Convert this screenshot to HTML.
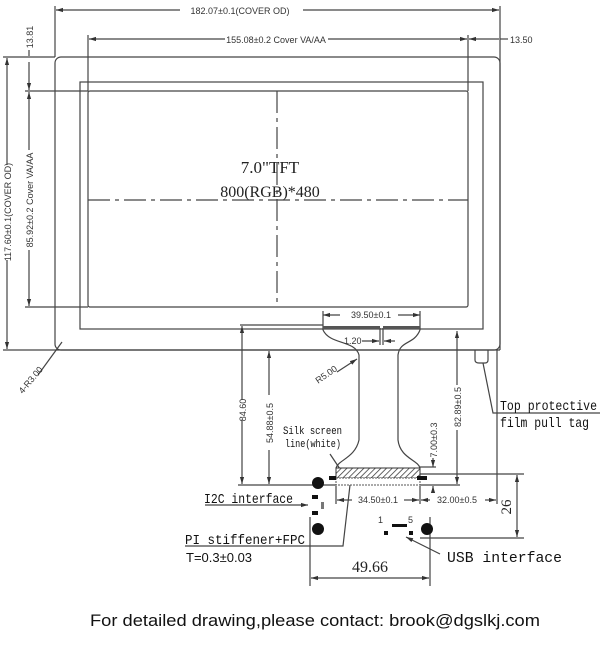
<!DOCTYPE html>
<html><head><meta charset="utf-8"><style>
html,body{margin:0;padding:0;background:#fff;width:600px;height:650px;overflow:hidden}
svg{display:block}
.d{font-family:"Liberation Sans Narrow","Liberation Sans",sans-serif;font-size:9px;fill:#333}
.m{font-family:"Liberation Mono",monospace;fill:#111}
</style></head><body>
<svg width="600" height="650" viewBox="0 0 600 650" xmlns="http://www.w3.org/2000/svg">
<defs>
<marker id="a" viewBox="0 0 10 10" refX="10" refY="5" markerWidth="6" markerHeight="6" orient="auto-start-reverse"><path d="M0,2 L10,5 L0,8 z" fill="#333"/></marker>
<pattern id="h" width="4" height="4" patternUnits="userSpaceOnUse" patternTransform="rotate(45)"><rect width="4" height="4" fill="#fff"/><line x1="0" y1="0" x2="0" y2="4" stroke="#333" stroke-width="1.5"/></pattern>
</defs>
<g stroke="#444" stroke-width="1.2" fill="none">
<rect x="55" y="57" width="445" height="293" rx="6"/>
<rect x="80" y="82" width="403" height="247"/>
<rect x="88" y="91" width="380" height="216" rx="2"/>
<line x1="277" y1="91" x2="277" y2="307" stroke-dasharray="22,5,4,5"/>
<line x1="88" y1="200" x2="468" y2="200" stroke-dasharray="22,5,4,5"/>
<line x1="55" y1="6" x2="55" y2="57"/><line x1="500" y1="6" x2="500" y2="350"/>
<line x1="56" y1="10" x2="180" y2="10" marker-start="url(#a)"/><line x1="303" y1="10" x2="499" y2="10" marker-end="url(#a)"/>
<line x1="88" y1="35" x2="88" y2="91"/><line x1="468" y1="35" x2="468" y2="91"/>
<line x1="89" y1="39" x2="225" y2="39" marker-start="url(#a)"/><line x1="328" y1="39" x2="467" y2="39" marker-end="url(#a)"/>
<line x1="469" y1="39" x2="499" y2="39" marker-start="url(#a)"/><line x1="500" y1="39" x2="508" y2="39"/>
<line x1="3" y1="57" x2="55" y2="57"/><line x1="3" y1="350" x2="55" y2="350"/>
<line x1="7" y1="58" x2="7" y2="165" marker-start="url(#a)"/><line x1="7" y1="260" x2="7" y2="349" marker-end="url(#a)"/>
<line x1="25" y1="91" x2="88" y2="91"/><line x1="25" y1="307" x2="88" y2="307"/>
<line x1="29" y1="92" x2="29" y2="150" marker-start="url(#a)"/><line x1="29" y1="250" x2="29" y2="306" marker-end="url(#a)"/>
<line x1="29" y1="50" x2="29" y2="56" /><line x1="29" y1="62" x2="29" y2="90" marker-end="url(#a)"/>
<line x1="38" y1="375" x2="62" y2="342"/>
<line x1="323" y1="315" x2="340" y2="315" marker-start="url(#a)"/><line x1="398" y1="315" x2="420" y2="315" marker-end="url(#a)"/>
<line x1="323" y1="311" x2="323" y2="330"/><line x1="420" y1="311" x2="420" y2="330"/>
<line x1="240" y1="325" x2="323" y2="325"/>
<path d="M323,330 C330,345 355,340 359,355 L359,440 C355,458 338,460 336,468"/>
<path d="M420,330 C414,345 400,340 398,355 L398,440 C400,458 418,460 420,468"/>
<line x1="55" y1="350" x2="500" y2="350"/>
<line x1="380" y1="328" x2="380" y2="345"/><line x1="383" y1="328" x2="383" y2="345"/>
<line x1="362" y1="341" x2="379" y2="341" marker-end="url(#a)"/><line x1="384" y1="341" x2="395" y2="341" marker-start="url(#a)"/>
<line x1="337" y1="372" x2="357" y2="359" marker-end="url(#a)"/>
<line x1="242" y1="326" x2="242" y2="400" marker-start="url(#a)"/><line x1="242" y1="420" x2="242" y2="484" marker-end="url(#a)"/>
<line x1="269" y1="351" x2="269" y2="395" marker-start="url(#a)"/><line x1="269" y1="450" x2="269" y2="484" marker-end="url(#a)"/>
<line x1="457" y1="331" x2="457" y2="385" marker-start="url(#a)"/><line x1="457" y1="430" x2="457" y2="484" marker-end="url(#a)"/>
<line x1="238" y1="485" x2="336" y2="485"/><line x1="420" y1="485" x2="460" y2="485"/>
<line x1="433" y1="458" x2="433" y2="467" marker-end="url(#a)"/><line x1="433" y1="486" x2="433" y2="492" marker-start="url(#a)"/>
<line x1="420" y1="467" x2="436" y2="467"/>
<line x1="420" y1="474" x2="524" y2="474"/><line x1="420" y1="538" x2="524" y2="538"/>
<line x1="517" y1="475" x2="517" y2="537" marker-start="url(#a)" marker-end="url(#a)"/>
<line x1="336" y1="486" x2="336" y2="504"/><line x1="420" y1="486" x2="420" y2="504"/><line x1="497" y1="350" x2="497" y2="504"/>
<line x1="337" y1="500" x2="352" y2="500" marker-start="url(#a)"/><line x1="404" y1="500" x2="419" y2="500" marker-end="url(#a)"/>
<line x1="421" y1="500" x2="430" y2="500" marker-start="url(#a)"/><line x1="485" y1="500" x2="496" y2="500" marker-end="url(#a)"/>
<line x1="310" y1="517" x2="310" y2="586"/><line x1="430" y1="517" x2="430" y2="586"/>
<line x1="311" y1="578" x2="429" y2="578" marker-start="url(#a)" marker-end="url(#a)"/>
<path d="M475,350 L475,360 Q475,363 479,363 L485,363 Q488,363 488,360 L488,350"/>
<path d="M483,363 L493,413 L600,413"/>
<line x1="330" y1="454" x2="340" y2="469"/>
<path d="M185,546 L343,546 L350,485"/>
<line x1="205" y1="505" x2="308" y2="505" marker-end="url(#a)"/>
<line x1="440" y1="554" x2="406" y2="537" marker-end="url(#a)"/>
</g>
<rect x="323" y="326" width="57" height="3" fill="#555"/><rect x="383" y="326" width="37" height="3" fill="#555"/>
<rect x="336" y="468" width="84" height="10" fill="url(#h)" stroke="#333"/>
<rect x="336" y="478" width="84" height="7" fill="#fff" stroke="#555" stroke-dasharray="2,1"/>
<rect x="329" y="476" width="7" height="4" fill="#111"/><rect x="417" y="476" width="10" height="4" fill="#111"/>
<g fill="#111">
<circle cx="318" cy="483" r="6"/><circle cx="318" cy="529" r="6"/><circle cx="427" cy="529" r="6"/>
<rect x="312" y="495" width="6" height="4"/><rect x="312" y="511" width="6" height="4"/><rect x="321" y="502" width="3" height="7" fill="#777"/>
<rect x="392" y="524" width="15" height="3"/><rect x="384" y="531" width="4" height="4"/><rect x="409" y="531" width="4" height="4"/>
</g>
<text class="d" x="378" y="523" font-size="5">1</text><text class="d" x="408" y="523" font-size="5">5</text>
<g class="d">
<text x="240" y="14" text-anchor="middle">182.07±0.1(COVER OD)</text>
<text x="276" y="43" text-anchor="middle">155.08±0.2  Cover VA/AA</text>
<text x="510" y="43">13.50</text>
<text x="371" y="318" text-anchor="middle">39.50±0.1</text>
<text x="344" y="344">1.20</text>
<text x="378" y="503" text-anchor="middle">34.50±0.1</text>
<text x="457" y="503" text-anchor="middle">32.00±0.5</text>
<text transform="translate(11,212) rotate(-90)" text-anchor="middle">117.60±0.1(COVER OD)</text>
<text transform="translate(33,200) rotate(-90)" text-anchor="middle">85.92±0.2 Cover VA/AA</text>
<text transform="translate(33,37) rotate(-90)" text-anchor="middle">13.81</text>
<text transform="translate(33,382) rotate(-50)" text-anchor="middle">4-R3.00</text>
<text transform="translate(328,377) rotate(-35)" text-anchor="middle">R5.00</text>
<text transform="translate(246,410) rotate(-90)" text-anchor="middle">84.60</text>
<text transform="translate(273,423) rotate(-90)" text-anchor="middle">54.88±0.5</text>
<text transform="translate(461,407) rotate(-90)" text-anchor="middle">82.89±0.5</text>
<text transform="translate(437,440) rotate(-90)" text-anchor="middle">7.00±0.3</text>
</g>
<text x="270" y="173" text-anchor="middle" font-family="Liberation Serif,serif" font-size="17" fill="#222">7.0"TFT</text>
<text x="270" y="197" text-anchor="middle" font-family="Liberation Serif,serif" font-size="16" fill="#222">800(RGB)*480</text>
<text transform="translate(511,507) rotate(-90)" text-anchor="middle" font-family="Liberation Serif,serif" font-size="15" fill="#222">26</text>
<text x="370" y="572" text-anchor="middle" font-family="Liberation Serif,serif" font-size="16" fill="#222">49.66</text>
<g class="m">
<text x="283" y="434" font-size="11" textLength="59" lengthAdjust="spacingAndGlyphs">Silk screen</text>
<text x="285" y="447" font-size="11" textLength="56" lengthAdjust="spacingAndGlyphs">line(white)</text>
<text x="500" y="410" font-size="14" textLength="97" lengthAdjust="spacingAndGlyphs">Top protective</text>
<text x="500" y="427" font-size="14" textLength="89" lengthAdjust="spacingAndGlyphs">film pull tag</text>
<text x="204" y="503" font-size="14" textLength="89" lengthAdjust="spacingAndGlyphs">I2C interface</text>
<text x="447" y="562" font-size="15" textLength="115" lengthAdjust="spacingAndGlyphs">USB interface</text>
<text x="185" y="544" font-size="14" textLength="120" lengthAdjust="spacingAndGlyphs">PI stiffener+FPC</text>
</g>
<text x="186" y="562" font-family="Liberation Sans,sans-serif" font-size="13" fill="#111">T=0.3±0.03</text>
<text x="90" y="626" font-family="Liberation Sans,sans-serif" font-size="17" fill="#111" textLength="450" lengthAdjust="spacingAndGlyphs">For detailed drawing,please contact: brook@dgslkj.com</text>
</svg>
</body></html>
